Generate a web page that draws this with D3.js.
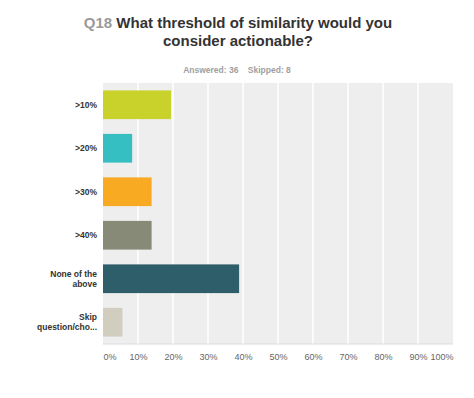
<!DOCTYPE html>
<html>
<head>
<meta charset="utf-8">
<script src="https://cdn.jsdelivr.net/npm/d3@7"></script>
<style>
  body { margin: 0; background: #fff; }
  svg { font-family: "Liberation Sans", Arial, sans-serif; }
</style>
</head>
<body>
<div id="chart"></div>
<script>
// answer choices (label lines) and share of respondents
const categories = [['>10%'], ['>20%'], ['>30%'], ['>40%'], ['None of the', 'above'], ['Skip', 'question/cho...']];
const values = [19.44, 8.33, 13.89, 13.89, 38.89, 5.56];
const colors = ['#c9d22b', '#35bfc2', '#f7aa22', '#888a78', '#2f5e6b', '#d2cebf'];
const ticks = [0, 10, 20, 30, 40, 50, 60, 70, 80, 90, 100];

const width = 474, height = 398;
const margin = {top: 83, right: 21, bottom: 54, left: 103};
const w = width - margin.left - margin.right;
const h = height - margin.top - margin.bottom;

const svg = d3.select('#chart').append('svg')
    .attr('width', width)
    .attr('height', height);

// title
const title = svg.append('text')
    .attr('text-anchor', 'middle')
    .attr('font-size', 15)
    .attr('font-weight', 'bold')
    .attr('fill', '#333');
title.append('tspan').attr('x', 238).attr('y', 28)
    .html('<tspan fill="#9a9a9a">Q18</tspan> What threshold of similarity would you');
title.append('tspan').attr('x', 238).attr('y', 46).text('consider actionable?');

svg.append('text')
    .attr('x', 237).attr('y', 73)
    .attr('text-anchor', 'middle')
    .attr('font-size', 8.5)
    .attr('font-weight', 'bold')
    .attr('fill', '#a0a0a0')
    .attr('xml:space', 'preserve')
    .text('Answered: 36    Skipped: 8');

const g = svg.append('g')
    .attr('transform', 'translate(' + margin.left + ',' + margin.top + ')');

const x = d3.scaleLinear().domain([0, 100]).range([0, w]);
const y = d3.scaleBand().domain(d3.range(categories.length)).range([0, h]).paddingInner(0.34).paddingOuter(0.17);

// background columns with white grid separators
g.append('rect')
    .attr('width', w).attr('height', h)
    .attr('fill', '#eeeeee');

g.selectAll('.grid')
    .data(ticks.slice(1, -1))
    .enter().append('line')
    .attr('x1', d => x(d)).attr('x2', d => x(d))
    .attr('y1', 0).attr('y2', h)
    .attr('stroke', '#fff')
    .attr('stroke-width', 1.5);

g.append('line')
    .attr('x1', 0).attr('x2', w)
    .attr('y1', h).attr('y2', h)
    .attr('stroke', '#dcdcdc');

// bars
g.selectAll('.bar')
    .data(values)
    .enter().append('rect')
    .attr('x', 0)
    .attr('y', (d, i) => y(i))
    .attr('width', d => x(d))
    .attr('height', y.bandwidth())
    .attr('fill', (d, i) => colors[i]);

// category labels
const labels = g.selectAll('.label')
    .data(categories)
    .enter().append('text')
    .attr('text-anchor', 'end')
    .attr('font-size', 8.5)
    .attr('font-weight', 'bold')
    .attr('fill', '#333')
    .attr('transform', (d, i) => 'translate(-6,' + (y(i) + y.bandwidth() / 2) + ')');

labels.each(function (d) {
    const t = d3.select(this);
    const lh = 10;
    d.forEach((line, k) => {
        t.append('tspan')
            .attr('x', 0)
            .attr('y', 3 + (k - (d.length - 1) / 2) * lh)
            .text(line);
    });
});

// x axis; end labels are kept inside the plot width
const axis = g.append('g')
    .attr('transform', 'translate(0,' + h + ')')
    .call(d3.axisBottom(x).tickValues(ticks).tickSize(0).tickPadding(10).tickFormat(d => d + '%'));
axis.select('.domain').remove();
axis.selectAll('text')
    .attr('font-size', 9)
    .attr('font-family', '"Liberation Sans", Arial, sans-serif')
    .attr('fill', '#666')
    .attr('text-anchor', d => d === 0 ? 'start' : d === 100 ? 'end' : 'middle');
</script>
</body>
</html>
